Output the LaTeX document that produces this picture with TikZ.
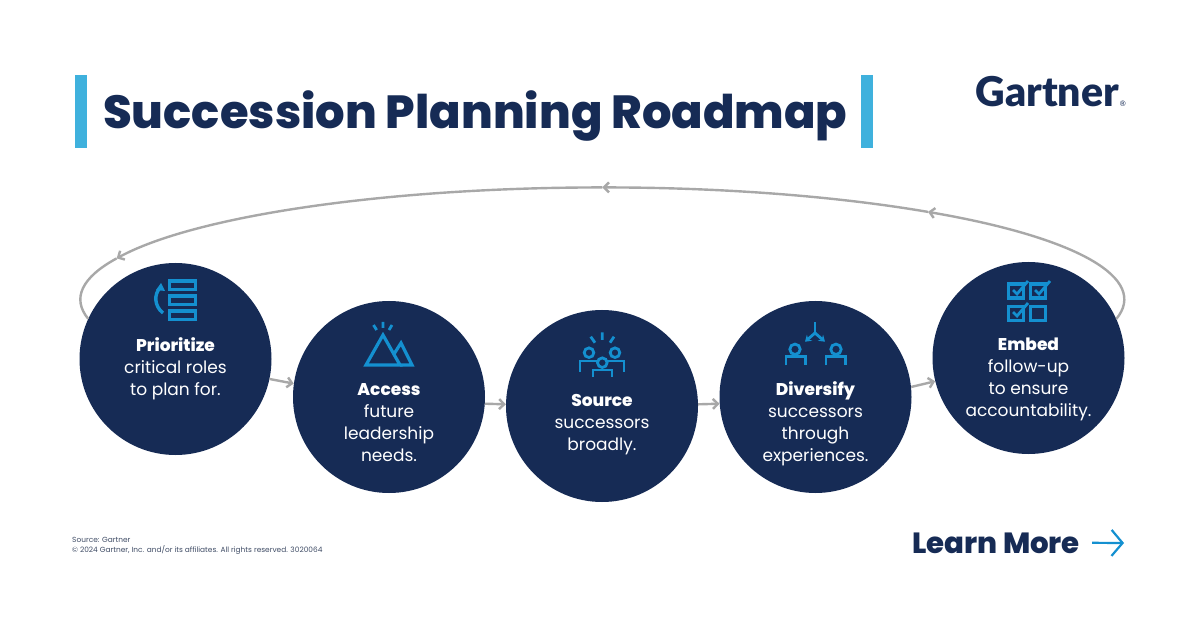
\documentclass[tikz,border=0pt]{standalone}
\usepackage{fontspec}
\setmainfont{Poppins}[BoldFont={Poppins ExtraBold}]
\newfontfamily\logofont{Lato Black}
\newfontfamily\markfont{DejaVu Sans}
\usetikzlibrary{arrows.meta, positioning, calc}
\definecolor{navy}{HTML}{162B55}
\definecolor{iconblue}{HTML}{1490D0}
\definecolor{barblue}{HTML}{3FB1DD}
\definecolor{loopgray}{HTML}{A8A8A8}
\tikzset{
  stepcircle/.style={circle, fill=navy, minimum size=192pt, inner sep=0pt},
  steptext/.style={text=white, align=center, inner sep=0pt, anchor=north, font=\fontsize{17}{22}\selectfont},
  titlebar/.style={fill=barblue, draw=none},
  flow/.style={draw=loopgray, line width=2.4pt, -{Straight Barb[length=5pt,width=10pt]}},
  icon/.style={draw=iconblue, line width=3.2pt},
  iconthin/.style={draw=iconblue, line width=2.8pt}
}
\begin{document}
\begin{tikzpicture}[x=1pt, y=-1pt]
        \useasboundingbox[fill=white] (0,0) rectangle (1200,628);

        % Title
        \fill[titlebar] (75,75) rectangle (87,148);
        \fill[titlebar] (861,75) rectangle (873,148);
        \node[anchor=base west, inner sep=0pt, text=navy, font=\fontsize{46.4}{47}\selectfont\bfseries] (title) at (103,129) {Succession Planning Roadmap};
        \node[anchor=base east, inner sep=0pt, text=navy, font=\fontsize{41}{41}\selectfont\logofont] (logo) at (1119,107) {Gartner};
        \node[anchor=base west, inner sep=0pt, text=navy, font=\fontsize{7.5}{8}\selectfont\markfont] (logomark) at (logo.base east) {®};

        % Nodes
        \node[stepcircle] (prioritize) at (175.5,359) {};
        \node[stepcircle] (access) at (389,397) {};
        \node[stepcircle] (source) at (602,406) {};
        \node[stepcircle] (diversify) at (815.5,397) {};
        \node[stepcircle] (embed) at (1028.5,358) {};

        \node[steptext] (prioritizetext) at (175.5,337) {\textbf{Prioritize}\\critical roles\\to plan for.};
        \node[steptext] (accesstext) at (389,383) {\textbf{Access}\\future\\leadership\\needs.};
        \node[steptext] (sourcetext) at (602,394) {\textbf{Source}\\successors\\broadly.};
        \node[steptext] (diversifytext) at (815.5,381) {\textbf{Diversify}\\successors\\through\\experiences.};
        \node[steptext] (embedtext) at (1028.5,338) {\textbf{Embed}\\follow-up\\to ensure\\accountability.};

        % Arrows
        \draw[flow] (prioritize.-12.6) -- (access.172);
        \draw[flow] (access.-4) -- (source.179);
        \draw[flow] (source.1) -- (diversify.184);
        \draw[flow] (diversify.6.5) -- (embed.194);

        % Loop back
        \draw[flow] (embed.24.6) arc[start angle=10, end angle=-51.4, x radius=522, y radius=112] coordinate (loopa);
        \draw[flow] (loopa) arc[start angle=-51.4, end angle=-90, x radius=522, y radius=112] coordinate (loopb);
        \draw[flow] (loopb) arc[start angle=-90, end angle=-158.5, x radius=522, y radius=112] coordinate (loopc);
        \draw[flow, -] (loopc) arc[start angle=-158.5, end angle=-190, x radius=522, y radius=112];

        % Icon prioritize
        \foreach \y in {281,296,311}
            \draw[icon] (169.5,\y) rectangle (195.5,\y+8.5);
        \draw[iconthin, line width=3.4pt] (163,313) .. controls (154,306) and (154,294) .. (160,288);
        \fill[iconblue] (161,283) -- (165,291) -- (156,290) -- cycle;

        % Icon access
        \draw[icon, line join=miter] (366,365) -- (383,335) -- (400,365) -- cycle;
        \draw[icon, line join=miter] (394,354) -- (401,343) -- (412,365) -- (400,365);
        \draw[iconthin] (373.5,325) -- (376.7,330) (383,322) -- (383,328) (392,325) -- (389,330);

        % Icon source
        \draw[iconthin] (589,352.7) circle (4.8) (615,352.7) circle (4.8) (602.3,362.7) circle (4.8);
        \draw[iconthin] (580,372) -- (580,361) -- (598,361) (624,372) -- (624,361) -- (607,361);
        \draw[iconthin] (593,377) -- (593,370) -- (612,370) -- (612,377);
        \draw[iconthin] (590.7,336.7) -- (595,342.7) (602.3,332.3) -- (602.3,340) (614,336.7) -- (610,342.7);

        % Icon diversify
        \draw[iconthin] (795,349.3) circle (5.2) (836,349.3) circle (5.2);
        \draw[iconthin] (786,365.3) -- (786,356.7) -- (805.3,356.7) -- (805.3,365.3);
        \draw[iconthin] (826,365.3) -- (826,356.7) -- (845.3,356.7) -- (845.3,365.3);
        \draw[iconthin] (815,322.3) -- (815,333);
        \draw[iconthin, -{Stealth[length=6pt,width=8pt]}] (815,333) -- (805,341.7);
        \draw[iconthin, -{Stealth[length=6pt,width=8pt]}] (815,333) -- (825,341.7);

        % Icon embed
        \foreach \x/\y in {1008.5/284, 1030.5/284, 1008.5/306.5, 1030.5/306.5}
            \draw[icon] (\x,\y) rectangle (\x+15,\y+14);
        \foreach \x/\y in {1013/290, 1035/290, 1013/312}
            \draw[iconthin] (\x,\y) -- (\x+4,\y+4) -- (\x+15,\y-9);

        % Footer
        \node[anchor=base west, inner sep=0pt, text=navy!60!gray, align=left, font=\fontsize{7.4}{10}\selectfont] (footer) at (72,552) {Source: Gartner\\© 2024 Gartner, Inc. and/or its affiliates. All rights reserved. 3020064};
        \node[anchor=base west, inner sep=0pt, text=navy, font=\fontsize{29.2}{30}\selectfont\bfseries] (learn) at (912,553) {Learn More};
        \coordinate (learnend) at (1124,543);
        \draw[iconblue, line width=2.2pt, -{Straight Barb[length=11pt,width=26pt]}] ($(learn.east)+(12,0)$ |- learnend) -- (learnend);
    \end{tikzpicture}
\end{document}
